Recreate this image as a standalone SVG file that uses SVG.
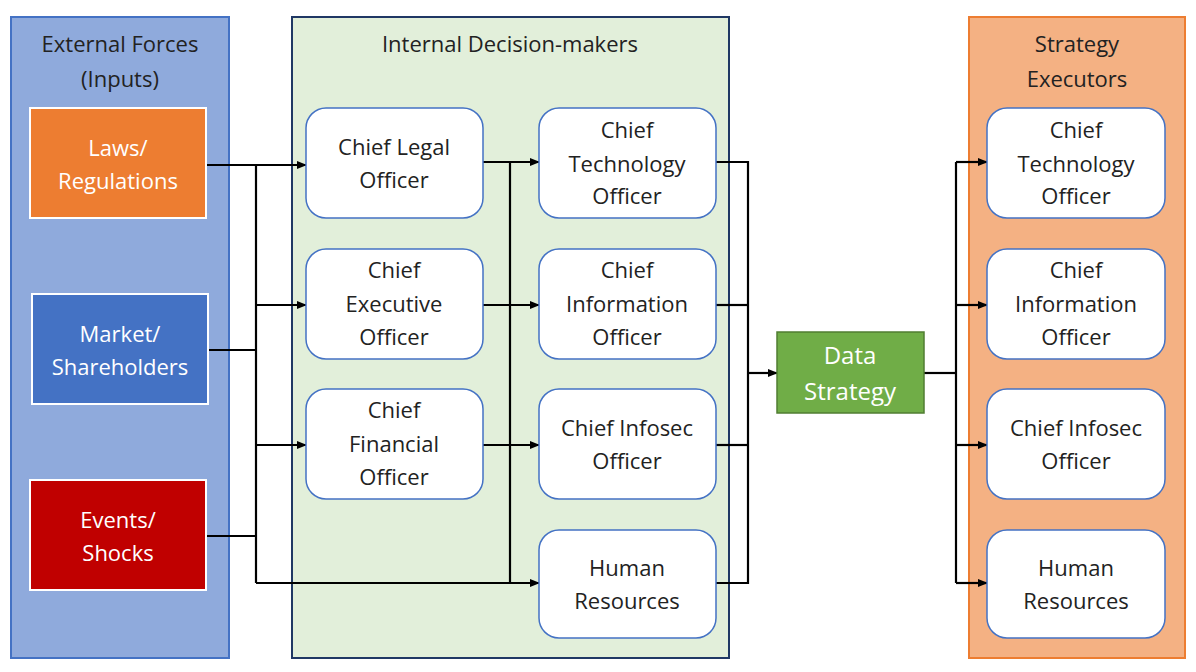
<svg xmlns="http://www.w3.org/2000/svg" width="1196" height="672" viewBox="0 0 1196 672">
<defs>
<marker id="ah" markerWidth="10" markerHeight="8" refX="9" refY="4" orient="auto" markerUnits="userSpaceOnUse"><path d="M0,0 L10,4 L0,8 z" fill="#000"/></marker>
<style>
text{font-family:"Open Sans","Liberation Sans",sans-serif;font-size:22px;text-anchor:middle}
.n rect{fill:#fff;stroke:#4472C4;stroke-width:1.5}
.n text{fill:#222}
.w text{fill:#fff}
.c path{fill:none;stroke:#000;stroke-width:2.2}
.a{marker-end:url(#ah)}
</style>
</defs>
<g id="panels">
<rect x="11" y="17" width="218" height="641" fill="#8FAADC" stroke="#4472C4" stroke-width="2"/>
<rect x="292" y="17" width="437" height="641" fill="#E2EFDA" stroke="#203864" stroke-width="2"/>
<rect x="969" y="17" width="216" height="641" fill="#F4B183" stroke="#ED7D31" stroke-width="2"/>
<text x="120" y="52" fill="#222">External Forces</text><text x="120" y="87" fill="#222">(Inputs)</text>
<text x="510" y="52" fill="#222">Internal Decision-makers</text>
<text x="1077" y="52" fill="#222">Strategy</text><text x="1077" y="87" fill="#222">Executors</text>
</g>
<g class="c">
<path d="M206,165 H306" class="a"/>
<path d="M208,350 H256"/><path d="M206,536 H256"/>
<path d="M256,165 V583"/>
<path d="M256,305 H306" class="a"/><path d="M256,445 H306" class="a"/><path d="M256,583 H539" class="a"/>
<path d="M483,162 H539" class="a"/><path d="M483,305 H539" class="a"/><path d="M483,445 H539" class="a"/>
<path d="M510,162 V583"/>
<path d="M716,162 H748 V583 H716"/><path d="M716,305 H748"/><path d="M716,445 H748"/>
<path d="M748,373 H777" class="a"/>
<path d="M924,373 H956"/><path d="M956,162 V583"/>
<path d="M956,162 H987" class="a"/><path d="M956,305 H987" class="a"/><path d="M956,445 H987" class="a"/><path d="M956,583 H987" class="a"/>
</g>
<g id="laws" class="w"><rect x="30" y="108" width="176" height="110" fill="#ED7D31" stroke="#fff" stroke-width="2"/><text x="118" y="156">Laws/</text><text x="118" y="189">Regulations</text></g>
<g id="market" class="w"><rect x="32" y="294" width="176" height="110" fill="#4472C4" stroke="#fff" stroke-width="2"/><text x="120" y="342">Market/</text><text x="120" y="375">Shareholders</text></g>
<g id="events" class="w"><rect x="30" y="480" width="176" height="110" fill="#C00000" stroke="#fff" stroke-width="2"/><text x="118" y="528">Events/</text><text x="118" y="561">Shocks</text></g>
<g id="clo" class="n"><rect x="306" y="108" width="177" height="110" rx="20"/><text x="394" y="155">Chief Legal</text><text x="394" y="188">Officer</text></g>
<g id="ceo" class="n"><rect x="306" y="249" width="177" height="110" rx="20"/><text x="394" y="278">Chief</text><text x="394" y="312">Executive</text><text x="394" y="345">Officer</text></g>
<g id="cfo" class="n"><rect x="306" y="389" width="177" height="110" rx="20"/><text x="394" y="418">Chief</text><text x="394" y="452">Financial</text><text x="394" y="485">Officer</text></g>
<g id="cto" class="n"><rect x="539" y="108" width="177" height="110" rx="20"/><text x="627" y="138">Chief</text><text x="627" y="172">Technology</text><text x="627" y="204">Officer</text></g>
<g id="cio" class="n"><rect x="539" y="249" width="177" height="110" rx="20"/><text x="627" y="278">Chief</text><text x="627" y="312">Information</text><text x="627" y="345">Officer</text></g>
<g id="ciso" class="n"><rect x="539" y="389" width="177" height="110" rx="20"/><text x="627" y="436">Chief Infosec</text><text x="627" y="469">Officer</text></g>
<g id="hr" class="n"><rect x="539" y="530" width="177" height="108" rx="20"/><text x="627" y="576">Human</text><text x="627" y="609">Resources</text></g>
<g id="ds" class="w"><rect x="777" y="332" width="147" height="81" fill="#70AD47" stroke="#507E32" stroke-width="1.5"/><text x="850" y="364" style="font-size:24px">Data</text><text x="850" y="400" style="font-size:24px">Strategy</text></g>
<g id="cto2" class="n"><rect x="987" y="108" width="178" height="110" rx="20"/><text x="1076" y="138">Chief</text><text x="1076" y="172">Technology</text><text x="1076" y="204">Officer</text></g>
<g id="cio2" class="n"><rect x="987" y="249" width="178" height="110" rx="20"/><text x="1076" y="278">Chief</text><text x="1076" y="312">Information</text><text x="1076" y="345">Officer</text></g>
<g id="ciso2" class="n"><rect x="987" y="389" width="178" height="110" rx="20"/><text x="1076" y="436">Chief Infosec</text><text x="1076" y="469">Officer</text></g>
<g id="hr2" class="n"><rect x="987" y="530" width="178" height="108" rx="20"/><text x="1076" y="576">Human</text><text x="1076" y="609">Resources</text></g>
</svg>
